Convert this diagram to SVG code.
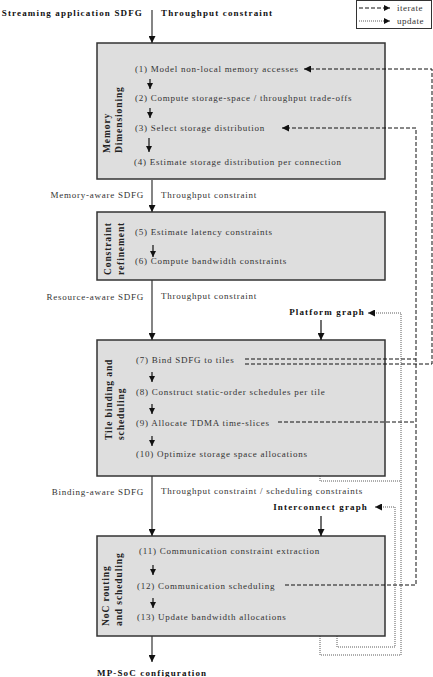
<svg xmlns="http://www.w3.org/2000/svg" width="433" height="677" viewBox="0 0 433 677">
<style>
.box{fill:#dedede;stroke:#333;stroke-width:1.5}
.t{font-family:"Liberation Serif",serif;font-size:9px;fill:#333;letter-spacing:0.75px}
.b{font-family:"Liberation Serif",serif;font-size:9px;font-weight:bold;fill:#111;letter-spacing:1.15px}
.side{font-family:"Liberation Serif",serif;font-size:9.5px;font-weight:bold;fill:#222;letter-spacing:0.9px}
.main{stroke:#333;stroke-width:1.2;fill:none}
.step{stroke:#111;stroke-width:1.2;fill:none}
.dash{stroke:#111;stroke-width:1;fill:none;stroke-dasharray:4 2}
.dot{stroke:#333;stroke-width:0.8;fill:none;stroke-dasharray:1 1}
.legbox{fill:#fff;stroke:#333;stroke-width:1}
</style>
<defs>
<marker id="ah" markerUnits="userSpaceOnUse" markerWidth="8" markerHeight="7" refX="7" refY="3.5" orient="auto">
<path d="M0,0 L7,3.5 L0,7 z" fill="#111"/>
</marker>
<marker id="as" markerUnits="userSpaceOnUse" markerWidth="7" markerHeight="6" refX="6" refY="3" orient="auto">
<path d="M0,0 L6,3 L0,6 z" fill="#111"/>
</marker>
</defs>

<g id="legend">
<rect class="legbox" x="356.5" y="0.5" width="75" height="28"/>
<line class="dash" x1="359" y1="8" x2="390" y2="8" marker-end="url(#as)"/>
<text class="t" x="397" y="11" style="letter-spacing:0.5px">iterate</text>
<line class="dot" x1="359" y1="21" x2="390" y2="21" marker-end="url(#as)"/>
<text class="t" x="397" y="24" style="letter-spacing:0.5px">update</text>
</g>

<g id="io-labels">
<text class="b" x="143" y="16" text-anchor="end">Streaming application SDFG</text>
<text class="b" x="161" y="16">Throughput constraint</text>
<text class="t" x="144" y="198" text-anchor="end">Memory-aware SDFG</text>
<text class="t" x="161" y="198">Throughput constraint</text>
<text class="t" x="144" y="300" text-anchor="end">Resource-aware SDFG</text>
<text class="t" x="161" y="299">Throughput constraint</text>
<text class="t" x="144" y="495" text-anchor="end">Binding-aware SDFG</text>
<text class="t" x="161" y="494">Throughput constraint / scheduling constraints</text>
<text class="b" x="97" y="676">MP-SoC configuration</text>
</g>

<g id="platform-graph">
<text class="b" x="365" y="315" text-anchor="end">Platform graph</text>
</g>
<g id="interconnect-graph">
<text class="b" x="368" y="510" text-anchor="end">Interconnect graph</text>
</g>

<g id="memory-dimensioning">
<rect class="box" x="97" y="43" width="288" height="136"/>
<text class="side" transform="translate(110,153) rotate(-90)">Memory</text>
<text class="side" transform="translate(122,153) rotate(-90)">Dimensioning</text>
<text class="t" x="135" y="72">(1) Model non-local memory accesses</text>
<text class="t" x="135" y="101">(2) Compute storage-space / throughput trade-offs</text>
<text class="t" x="135" y="131">(3) Select storage distribution</text>
<text class="t" x="134" y="165">(4) Estimate storage distribution per connection</text>
</g>

<g id="constraint-refinement">
<rect class="box" x="97" y="212" width="288" height="68"/>
<text class="side" transform="translate(111,275) rotate(-90)">Constraint</text>
<text class="side" transform="translate(124,275) rotate(-90)">refinement</text>
<text class="t" x="135" y="235">(5) Estimate latency constraints</text>
<text class="t" x="135" y="264">(6) Compute bandwidth constraints</text>
</g>

<g id="tile-binding">
<rect class="box" x="97" y="340" width="288" height="136"/>
<text class="side" transform="translate(112,440) rotate(-90)">Tile binding and</text>
<text class="side" transform="translate(124,440) rotate(-90)">scheduling</text>
<text class="t" x="136" y="363">(7) Bind SDFG to tiles</text>
<text class="t" x="136" y="395">(8) Construct static-order schedules per tile</text>
<text class="t" x="136" y="426">(9) Allocate TDMA time-slices</text>
<text class="t" x="136" y="457">(10) Optimize storage space allocations</text>
</g>

<g id="noc-routing">
<rect class="box" x="97" y="536" width="288" height="100"/>
<text class="side" transform="translate(109,626) rotate(-90)">NoC routing</text>
<text class="side" transform="translate(122,626) rotate(-90)">and scheduling</text>
<text class="t" x="139" y="554">(11) Communication constraint extraction</text>
<text class="t" x="137" y="589">(12) Communication scheduling</text>
<text class="t" x="137" y="620">(13) Update bandwidth allocations</text>
</g>

<g id="connectors">
<line class="main" x1="152" y1="10" x2="152" y2="43" marker-end="url(#ah)"/>
<line class="main" x1="152" y1="180" x2="152" y2="212" marker-end="url(#ah)"/>
<line class="main" x1="152" y1="280" x2="152" y2="340" marker-end="url(#ah)"/>
<line class="main" x1="152" y1="476" x2="152" y2="536" marker-end="url(#ah)"/>
<line class="main" x1="152" y1="636" x2="152" y2="662" marker-end="url(#ah)"/>
<line class="step" x1="321" y1="320" x2="321" y2="340" marker-end="url(#ah)"/>
<line class="step" x1="321" y1="516" x2="321" y2="536" marker-end="url(#ah)"/>

<line class="step" x1="150" y1="79" x2="150" y2="89" marker-end="url(#as)"/>
<line class="step" x1="150" y1="108" x2="150" y2="118" marker-end="url(#as)"/>
<line class="step" x1="149" y1="138" x2="149" y2="152" marker-end="url(#as)"/>
<line class="step" x1="153" y1="245" x2="153" y2="257" marker-end="url(#as)"/>
<line class="step" x1="152" y1="372" x2="152" y2="382" marker-end="url(#as)"/>
<line class="step" x1="152" y1="404" x2="152" y2="414" marker-end="url(#as)"/>
<line class="step" x1="152" y1="436" x2="152" y2="446" marker-end="url(#as)"/>
<line class="step" x1="153" y1="565" x2="153" y2="575" marker-end="url(#as)"/>
<line class="step" x1="153" y1="598" x2="153" y2="608" marker-end="url(#as)"/>

<path class="dash" d="M245,364 H432 V69 H304" marker-end="url(#ah)"/>
<path class="dash" d="M245,359 H416"/>
<path class="dash" d="M278,422 H416"/>
<path class="dash" d="M285,585 H416 V128 H282" marker-end="url(#ah)"/>

<path class="dot" d="M320,636 V655 H401 V313 H368" marker-end="url(#ah)"/>
<path class="dot" d="M320,476 V481 H401"/>
<path class="dot" d="M337,636 V647 H395 V507 H375" marker-end="url(#ah)"/>
</g>
</svg>
